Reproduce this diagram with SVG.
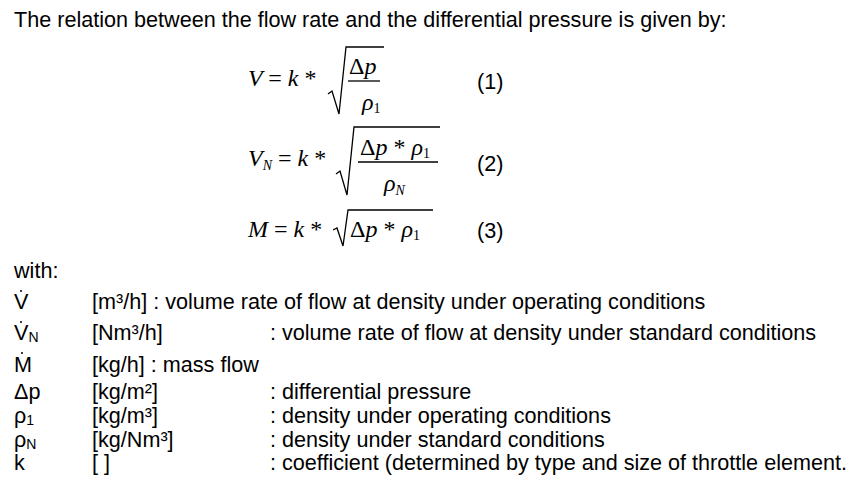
<svg xmlns="http://www.w3.org/2000/svg" width="866" height="488" viewBox="0 0 866 488">
<style>
.s{font-family:"Liberation Sans",Arial,sans-serif;font-size:21.6px;fill:#000}
.m{font-family:"Liberation Serif","Times New Roman",serif;font-size:24px;font-style:italic;fill:#000}
.u{font-style:normal}
.sub{font-size:14px}
.ln{stroke:#000;stroke-width:1.3;fill:none}
</style>
<rect width="866" height="488" fill="#fff"/>
<text class="s" x="14" y="27">The relation between the flow rate and the differential pressure is given by:</text>
<!-- eq 1 -->
<text class="m" x="248" y="86">V <tspan class="u">= </tspan>k<tspan class="u"> *</tspan></text>
<path class="ln" d="M328,94 L332,91 L339,114 L346,47 L384,47"/>
<text class="m" x="349" y="74"><tspan class="u">Δ</tspan>p</text>
<line class="ln" x1="348" y1="81" x2="380" y2="81"/>
<text class="m" x="362" y="110">ρ<tspan class="u sub" dy="3">1</tspan></text>
<text class="s" x="477" y="89">(1)</text>
<!-- eq 2 -->
<text class="m" x="248" y="166">V<tspan class="sub" dy="4">N</tspan><tspan dy="-4" class="u"> = </tspan>k<tspan class="u"> *</tspan></text>
<path class="ln" d="M336,174 L340,171 L347,195 L354,127 L440,127"/>
<text class="m" x="360" y="155"><tspan class="u">Δ</tspan>p<tspan class="u"> * </tspan>ρ<tspan class="u sub" dy="3">1</tspan></text>
<line class="ln" x1="358" y1="162" x2="438" y2="162"/>
<text class="m" x="384" y="191">ρ<tspan class="sub" dy="4">N</tspan></text>
<text class="s" x="477" y="171">(2)</text>
<!-- eq 3 -->
<text class="m" x="248" y="237">M <tspan class="u">= </tspan>k<tspan class="u"> *</tspan></text>
<path class="ln" d="M333,230 L337,228 L343,246 L348,210 L433,210"/>
<text class="m" x="350" y="237"><tspan class="u">Δ</tspan>p<tspan class="u"> * </tspan>ρ<tspan class="u sub" dy="3">1</tspan></text>
<text class="s" x="477" y="238">(3)</text>
<!-- legend -->
<text class="s" x="14" y="278">with:</text>
<text class="s" x="14" y="309">V</text><circle cx="21" cy="291" r="1" fill="#000"/>
<text class="s" x="92" y="309">[m³/h] : volume rate of flow at density under operating conditions</text>
<text class="s" x="14" y="340">V<tspan font-size="14" dy="2">N</tspan></text><circle cx="21" cy="322" r="1" fill="#000"/>
<text class="s" x="92" y="340">[Nm³/h]</text>
<text class="s" x="270" y="340">: volume rate of flow at density under standard conditions</text>
<text class="s" x="14" y="372">M</text><circle cx="22" cy="353" r="1" fill="#000"/>
<text class="s" x="92" y="372">[kg/h] : mass flow</text>
<text class="s" x="14" y="399">Δp</text>
<text class="s" x="92" y="399">[kg/m²]</text>
<text class="s" x="270" y="399">: differential pressure</text>
<text class="s" x="14" y="423">ρ<tspan font-size="14" dy="2">1</tspan></text>
<text class="s" x="92" y="423">[kg/m³]</text>
<text class="s" x="270" y="423">: density under operating conditions</text>
<text class="s" x="14" y="447">ρ<tspan font-size="14" dy="2">N</tspan></text>
<text class="s" x="92" y="447">[kg/Nm³]</text>
<text class="s" x="270" y="447">: density under standard conditions</text>
<text class="s" x="14" y="470">k</text>
<text class="s" x="92" y="470">[ ]</text>
<text class="s" x="270" y="470">: coefficient (determined by type and size of throttle element.</text>
</svg>
